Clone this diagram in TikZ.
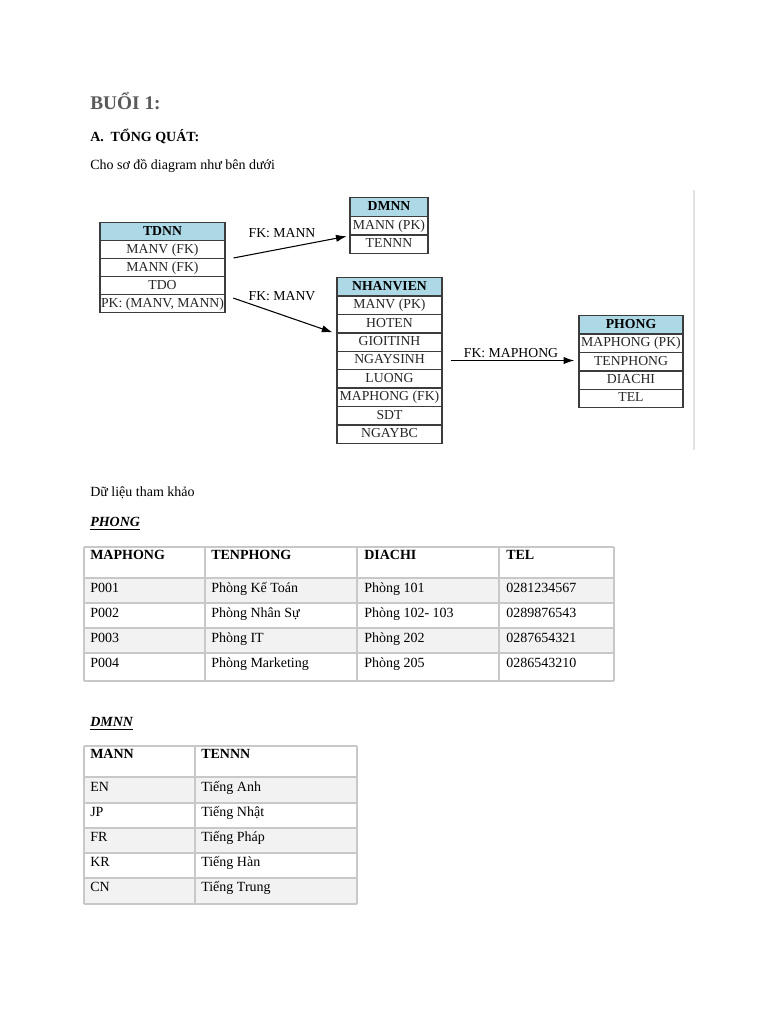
\documentclass[tikz,border=0pt]{standalone}
\usepackage{fontspec}
\setmainfont{Liberation Serif}
\usetikzlibrary{arrows.meta,calc}
\definecolor{hdrblue}{HTML}{ADD8E6}
\definecolor{boxline}{HTML}{3C3C3C}
\definecolor{gridgray}{HTML}{C8C8C8}
\definecolor{rowgray}{HTML}{F2F2F2}
\definecolor{titlegray}{HTML}{5A5A5A}
\definecolor{sidegray}{HTML}{E2E2E2}
\begin{document}
\begin{tikzpicture}[x=0.75pt,y=-0.75pt,
  txt/.style={anchor=base west, inner sep=0, font=\fontsize{10.5}{12}\selectfont},
  thd/.style={anchor=base west, inner sep=0, font=\fontsize{10.5}{12}\selectfont\bfseries},
  ent/.style={draw=boxline, line width=1.1pt, inner sep=0, anchor=north, text height=7.2pt, text depth=2.2pt, font=\fontsize{10.3}{12}\selectfont, text=black!85},
  ehd/.style={ent, fill=hdrblue, text=black, font=\fontsize{10.3}{12}\selectfont\bfseries},
  tdsz/.style={minimum width=93.75pt, minimum height=13.5pt},
  dmsz/.style={minimum width=58.5pt, minimum height=14pt},
  nvsz/.style={minimum width=78.75pt, minimum height=13.8pt},
  phsz/.style={minimum width=78pt, minimum height=13.8pt},
  fk/.style={draw=black, line width=0.8pt, -{Latex[length=8pt,width=5.5pt]}},
  fklab/.style={inner sep=0, font=\fontsize{10.3}{12}\selectfont},
  grid/.style={draw=gridgray, line width=0.8pt}
]
\useasboundingbox[fill=white] (0,0) rectangle (768,1024);

% headings
\node[anchor=base west, inner sep=0, font=\fontsize{14.5}{16}\selectfont\bfseries, text=titlegray] (title) at (90,109) {BUỔI 1:};
\node[thd] (secA) at (90,141) {A.\hspace{5pt}TỔNG QUÁT:};
\node[txt] (intro) at (90,169) {Cho sơ đồ diagram như bên dưới};

% side line of the diagram image
\draw[sidegray, line width=1.2pt] (694,190) -- (694,450);

% TDNN
\node[ehd, tdsz] (tdnnh) at (162.5,222) {TDNN};
\node[ent, tdsz] (tdnn1) at (162.5,240) {MANV (FK)};
\node[ent, tdsz] (tdnn2) at (162.5,258) {MANN (FK)};
\node[ent, tdsz] (tdnn3) at (162.5,276) {TDO};
\node[ent, tdsz] (tdnn4) at (162.5,294) {PK: (MANV, MANN)};

% DMNN
\node[ehd, dmsz] (dmnnh) at (389,197) {DMNN};
\node[ent, dmsz] (dmnn1) at (389,215.67) {MANN (PK)};
\node[ent, dmsz] (dmnn2) at (389,234.33) {TENNN};

% NHANVIEN
\node[ehd, nvsz] (nvh) at (389.5,277) {NHANVIEN};
\node[ent, nvsz] (nv1) at (389.5,295.4) {MANV (PK)};
\node[ent, nvsz] (nv2) at (389.5,313.8) {HOTEN};
\node[ent, nvsz] (nv3) at (389.5,332.2) {GIOITINH};
\node[ent, nvsz] (nv4) at (389.5,350.6) {NGAYSINH};
\node[ent, nvsz] (nv5) at (389.5,369.0) {LUONG};
\node[ent, nvsz] (nv6) at (389.5,387.4) {MAPHONG (FK)};
\node[ent, nvsz] (nv7) at (389.5,405.8) {SDT};
\node[ent, nvsz] (nv8) at (389.5,424.2) {NGAYBC};

% PHONG
\node[ehd, phsz] (phh) at (631,315) {PHONG};
\node[ent, phsz] (ph1) at (631,333.4) {MAPHONG (PK)};
\node[ent, phsz] (ph2) at (631,351.8) {TENPHONG};
\node[ent, phsz] (ph3) at (631,370.2) {DIACHI};
\node[ent, phsz] (ph4) at (631,388.6) {TEL};

% connectors
\draw[fk, shorten <=6pt, shorten >=2pt] (tdnn1.south east) -- (dmnn1.south west);
\draw[fk, shorten <=6pt, shorten >=3pt] (tdnn3.south east) -- (nv2.south west);
\draw[fk, shorten <=6pt, shorten >=3pt] (nv4.east) -- (nv4.east -| ph2.west);
\node[fklab] (lab1) at (282,233) {FK: MANN};
\node[fklab] (lab2) at (282,296) {FK: MANV};
\node[fklab] (lab3) at (511,353) {FK: MAPHONG};

% reference data
\node[txt] (ref) at (90,496) {Dữ liệu tham khảo};
\node[anchor=base west, inner sep=0, font=\fontsize{10.5}{12}\selectfont\bfseries\itshape] (lblphong) at (90,526) {PHONG};
\draw[line width=1pt] ($(lblphong.base west)+(0,3.5)$) -- ($(lblphong.base east)+(0,3.5)$);

% PHONG table
\fill[rowgray] (84,578) rectangle (614,603);
\fill[rowgray] (84,628) rectangle (614,653);
\foreach \yy in {547,578,603,628,653,681} \draw[grid] (84,\yy) -- (614,\yy);
\foreach \xx in {84,205,357,499,614} \draw[grid] (\xx,547) -- (\xx,681);
\node[thd] (pth1) at (90,559) {MAPHONG};
\node[thd] (pth2) at (211,559) {TENPHONG};
\node[thd] (pth3) at (364,559) {DIACHI};
\node[thd] (pth4) at (506,559) {TEL};
\node[txt] (p11) at (90,592) {P001};
\node[txt] (p12) at (211,592) {Phòng Kế Toán};
\node[txt] (p13) at (364,592) {Phòng 101};
\node[txt] (p14) at (506,592) {0281234567};
\node[txt] (p21) at (90,617) {P002};
\node[txt] (p22) at (211,617) {Phòng Nhân Sự};
\node[txt] (p23) at (364,617) {Phòng 102- 103};
\node[txt] (p24) at (506,617) {0289876543};
\node[txt] (p31) at (90,642) {P003};
\node[txt] (p32) at (211,642) {Phòng IT};
\node[txt] (p33) at (364,642) {Phòng 202};
\node[txt] (p34) at (506,642) {0287654321};
\node[txt] (p41) at (90,667) {P004};
\node[txt] (p42) at (211,667) {Phòng Marketing};
\node[txt] (p43) at (364,667) {Phòng 205};
\node[txt] (p44) at (506,667) {0286543210};

% DMNN table
\node[anchor=base west, inner sep=0, font=\fontsize{10.5}{12}\selectfont\bfseries\itshape] (lbldmnn) at (90,726) {DMNN};
\draw[line width=1pt] ($(lbldmnn.base west)+(0,3.5)$) -- ($(lbldmnn.base east)+(0,3.5)$);
\fill[rowgray] (84,777) rectangle (357,803);
\fill[rowgray] (84,828) rectangle (357,853);
\fill[rowgray] (84,878) rectangle (357,904);
\foreach \yy in {746,777,803,828,853,878,904} \draw[grid] (84,\yy) -- (357,\yy);
\foreach \xx in {84,195,357} \draw[grid] (\xx,746) -- (\xx,904);
\node[thd] (dth1) at (90,758) {MANN};
\node[thd] (dth2) at (201,758) {TENNN};
\node[txt] (d11) at (90,791) {EN};
\node[txt] (d12) at (201,791) {Tiếng Anh};
\node[txt] (d21) at (90,816) {JP};
\node[txt] (d22) at (201,816) {Tiếng Nhật};
\node[txt] (d31) at (90,841) {FR};
\node[txt] (d32) at (201,841) {Tiếng Pháp};
\node[txt] (d41) at (90,866) {KR};
\node[txt] (d42) at (201,866) {Tiếng Hàn};
\node[txt] (d51) at (90,891) {CN};
\node[txt] (d52) at (201,891) {Tiếng Trung};
\end{tikzpicture}
\end{document}
